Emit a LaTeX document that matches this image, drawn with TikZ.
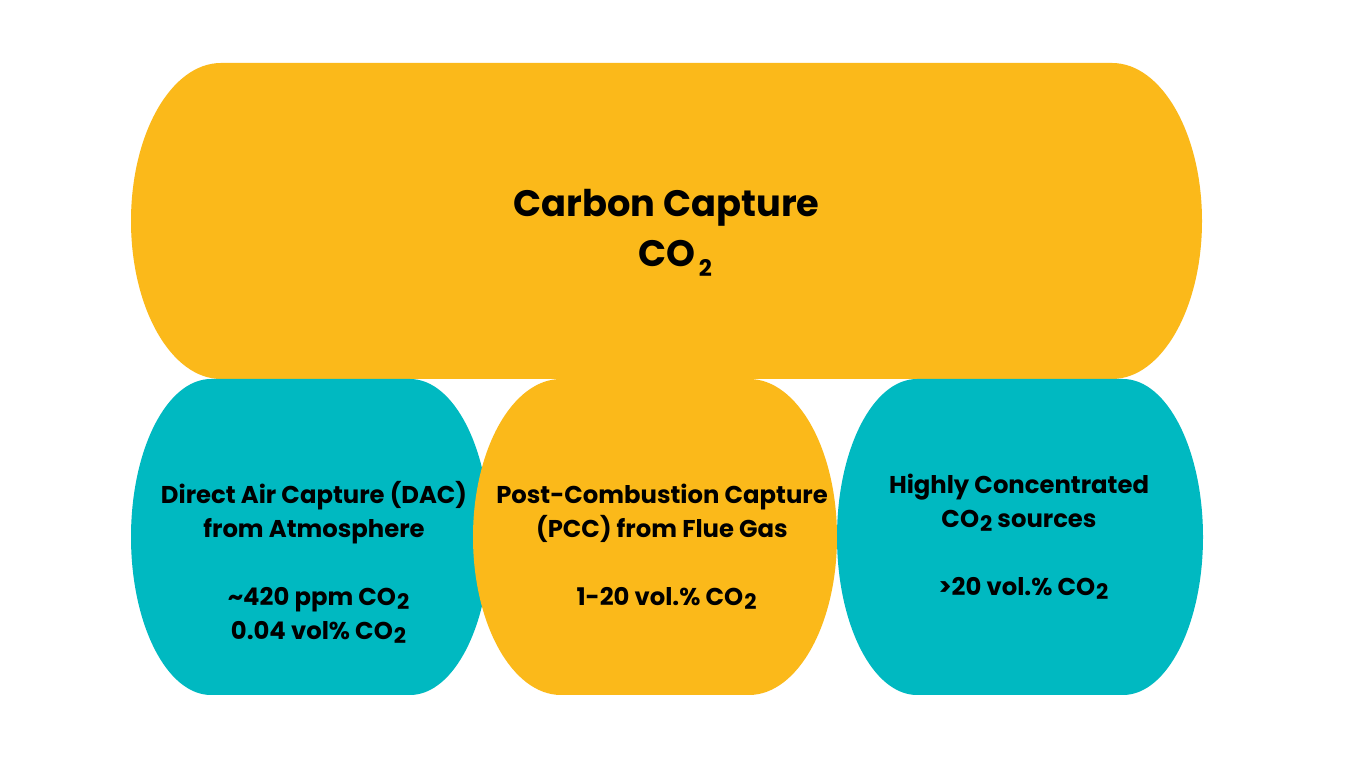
\documentclass[tikz,border=0pt]{standalone}
\usepackage{fontspec}
\setmainfont{Poppins}
\usepackage{graphicx}
\definecolor{capyellow}{RGB}{251,185,26}
\definecolor{capteal}{RGB}{0,185,193}
\newcommand\mycapsule[6]{% x1, ybottom, x2, ytop, rx, colour
  \fill[#6] ({#1+#5},#4) -- ({#3-#5},#4)
    arc[start angle=90,end angle=-90,x radius=#5,y radius={(#4-#2)/2}]
    -- ({#1+#5},#2)
    arc[start angle=270,end angle=90,x radius=#5,y radius={(#4-#2)/2}] -- cycle;}
\newcommand\ctwo[1][0.88]{\hspace{1pt}\raisebox{-0.3ex}{\scalebox{#1}{2}}}
\newcommand\bigtwo{\rlap{\hspace{4pt}\raisebox{-0.5ex}{\scalebox{0.62}{2}}}}
\newcommand\lead{\hspace*{9pt}}
\tikzset{
  smalltext/.style={align=center,inner sep=0pt,font=\fontsize{24.3}{34}\selectfont\bfseries},
  bigtext/.style={align=center,inner sep=0pt,font=\fontsize{36.8}{50}\selectfont\bfseries}
}
\begin{document}
\begin{tikzpicture}[x=1pt,y=1pt]
\useasboundingbox (0,0) rectangle (1350,759);
\fill[white] (0,0) rectangle (1350,759);
% shapes
\mycapsule{131}{380}{1202}{696}{90}{capyellow}
\mycapsule{131}{64}{490}{380}{80}{capteal}
\mycapsule{473}{64}{837}{380}{88}{capyellow}
\mycapsule{837}{64}{1203}{380}{80}{capteal}
% texts
\node[bigtext] (cc) at (666.5,526) {Carbon Capture\\ CO\bigtwo};
\node[smalltext] (dac) at (314,196.5) {Direct Air Capture (DAC)\\ from Atmosphere\\[34pt] \lead\textasciitilde420 ppm CO\ctwo\\ \lead0.04 vol\% CO\ctwo};
\node[smalltext] (pcc) at (662,212.5) {Post-Combustion Capture\\ (PCC) from Flue Gas\\[34pt] \lead1-20 vol.\% CO\ctwo};
\node[smalltext] (hcc) at (1019,222) {Highly Concentrated\\ CO\ctwo\ sources\\[34pt] \lead>20 vol.\% CO\ctwo};
\end{tikzpicture}
\end{document}
